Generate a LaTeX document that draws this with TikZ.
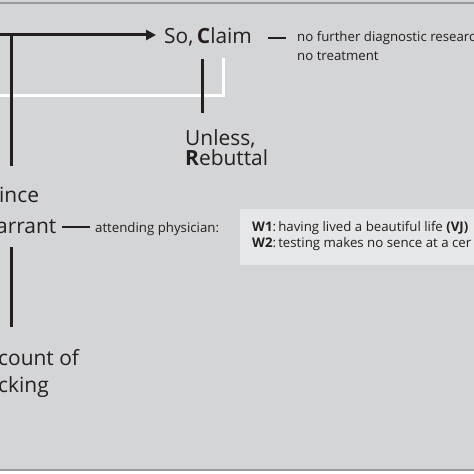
\documentclass[tikz,border=0pt]{standalone}
\usepackage{fontspec}
\setmainfont{Open Sans}
\usetikzlibrary{arrows.meta}
\definecolor{bg}{HTML}{D4D5D7}
\definecolor{boxc}{HTML}{E6E7E8}
\definecolor{edge}{HTML}{9A9B9D}
\definecolor{ink}{HTML}{231F20}
\tikzset{
  big/.style={inner sep=0pt, anchor=base west, text=ink, font=\fontsize{21}{22}\selectfont},
  small/.style={inner sep=0pt, anchor=base west, text=ink, font=\fontsize{13.3}{14}\selectfont},
  thick line/.style={draw=ink, line width=3bp},
  white line/.style={draw=white, line width=3bp},
  thin dash/.style={draw=ink, line width=1.6bp},
}
\begin{document}
\begin{tikzpicture}[x=1bp,y=-1bp]
\useasboundingbox (0,0) rectangle (474,474);
\fill[white] (0,0) rectangle (474,474);
\fill[bg] (0,0) rectangle (474,471);
\fill[edge] (0,2) rectangle (474,4.5);
\fill[edge] (0,468.5) rectangle (474,471);
\fill[boxc] (240,209) rectangle (474,265);
% texts
\node[big] (claim) at (164,44) {So,\,\textbf{C}laim};
\node[big] (unless) at (185,146) {Unless,};
\node[big] (rebuttal) at (185,166) {\textbf{R}ebuttal};
\node[big] (since) at (-1,203) {ince};
\node[big] (warrant) at (-4,234) {arrant};
\node[big] (count) at (-2,365) {count of};
\node[big] (cking) at (-2,392) {cking};
\node[small] (c1) at (297,42) {no further diagnostic researc};
\node[small] (c2) at (297,61) {no treatment};
\node[small] (att) at (95,233) {attending physician:};
\node[small] (w1) at (252,232) {\textbf{W1}:\,having lived a beautiful life \textbf{(VJ)}};
\node[small] (w2) at (252,247) {\textbf{W2}:\,testing makes no sence at a cer};
% coordinates
\coordinate (a0) at (0,35);
\coordinate (tip) at (156,35);
\coordinate (v0) at (11,35);
\coordinate (v1) at (11,166);
\coordinate (w0) at (0,96);
\coordinate (wc) at (223,96);
\coordinate (wt) at (223,58);
\coordinate (r0) at (202,59);
\coordinate (r1) at (202,113);
\coordinate (l0) at (11,247);
\coordinate (l1) at (11,327);
\coordinate (d0) at (268,38);
\coordinate (d1) at (286,38);
\coordinate (e0) at (62,227);
\coordinate (e1) at (90,227);
% lines
\draw[white line] (w0) -- (wc) -- (wt);
\draw[thick line] (r0) -- (r1);
\draw[thick line, -{Triangle[length=10bp,width=10bp]}] (a0) -- (tip);
\draw[thick line] (v0) -- (v1);
\draw[thick line] (l0) -- (l1);
\draw[thin dash] (d0) -- (d1);
\draw[thin dash] (e0) -- (e1);
\end{tikzpicture}
\end{document}
